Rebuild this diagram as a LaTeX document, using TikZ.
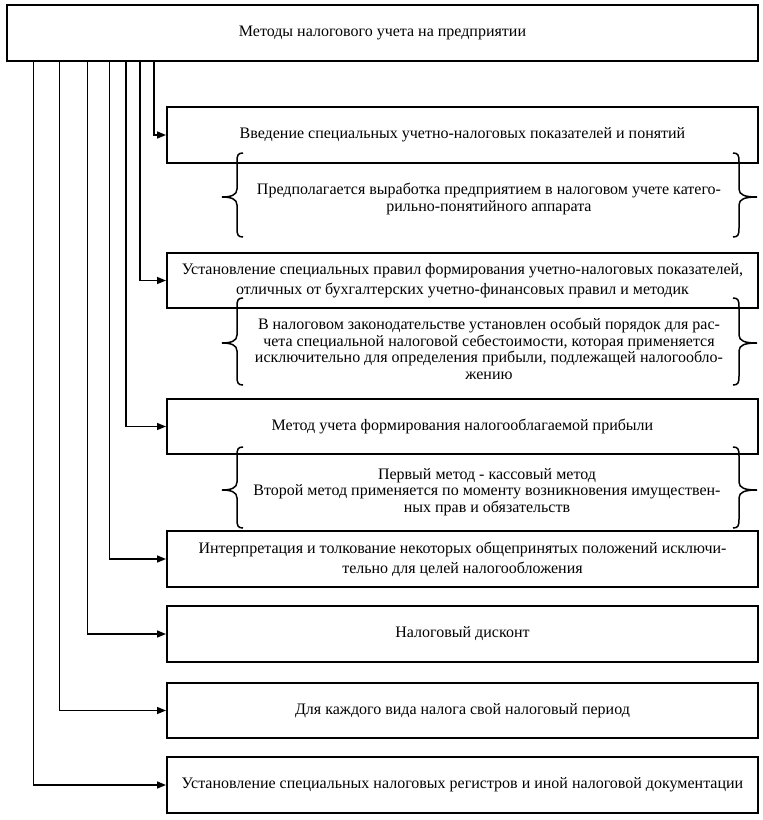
\documentclass[tikz,border=0pt]{standalone}
\usepackage{fontspec}
\setmainfont{Liberation Serif}
\usetikzlibrary{arrows.meta}
\newcommand\leftbrc[3]{%
  \draw[brace] (243,#1) .. controls (238,#1) and (237,#1+2) .. (237,#1+9) -- (237,#2-8)
    .. controls (237,#2-2) and (231,#2) .. (222,#2)
    .. controls (231,#2) and (237,#2+2) .. (237,#2+8) -- (237,#3-9)
    .. controls (237,#3-2) and (238,#3) .. (243,#3);}
\newcommand\rightbrc[3]{%
  \draw[brace] (733,#1) .. controls (738,#1) and (739,#1+2) .. (739,#1+9) -- (739,#2-8)
    .. controls (739,#2-2) and (745,#2) .. (757,#2)
    .. controls (745,#2) and (739,#2+2) .. (739,#2+8) -- (739,#3-9)
    .. controls (739,#3-2) and (738,#3) .. (733,#3);}
\begin{document}
\begin{tikzpicture}[x=1pt,y=-1pt,
  box/.style={draw, line width=2pt, minimum width=591pt, minimum height=55pt,
    align=center, inner sep=0pt, font=\fontsize{16}{20}\selectfont},
  conn/.style={line width=1.5pt, -{Triangle[length=9pt,width=7pt]}},
  brace/.style={line width=1.5pt},
  btext/.style={align=center, inner sep=0pt, font=\fontsize{16}{16.5}\selectfont}]
\useasboundingbox[fill=white] (0,0) rectangle (763,820);

\node[box, minimum width=751pt, minimum height=56pt] (top) at (382.5,33) {Методы налогового учета на предприятии};

\node[box, minimum height=56pt] (b1) at (462.5,135) {Введение специальных учетно-налоговых показателей и понятий};
\node[box] (b2) at (462.5,280.5) {Установление специальных правил формирования учетно-налоговых показателей,\\отличных от бухгалтерских учетно-финансовых правил и методик};
\node[box] (b3) at (462.5,426.5) {Метод учета формирования налогооблагаемой прибыли};
\node[box, minimum height=56pt] (b4) at (462.5,559) {Интерпретация и толкование некоторых общепринятых положений исключи-\\тельно для целей налогообложения};
\node[box, minimum height=56pt] (b5) at (462.5,634) {Налоговый дисконт};
\node[box] (b6) at (462.5,710.5) {Для каждого вида налога свой налоговый период};
\node[box, minimum height=56pt] (b7) at (462.5,785) {Установление специальных налоговых регистров и иной налоговой документации};

% braces
\leftbrc{153}{197}{237}
\rightbrc{153}{197}{237}
\node[btext] (t1) at (489,199) {Предполагается выработка предприятием в налоговом учете катего-\\рильно-понятийного аппарата};

\leftbrc{298}{343}{385}
\rightbrc{298}{343}{385}
\node[btext] (t2) at (489,349) {В налоговом законодательстве установлен особый порядок для рас-\\чета специальной налоговой себестоимости, которая применяется\\исключительно для определения прибыли, подлежащей налогообло-\\жению};

\leftbrc{447}{490}{528}
\rightbrc{447}{490}{528}
\node[btext] (t3) at (487,492) {Первый метод - кассовый метод\\Второй метод применяется по моменту возникновения имуществен-\\ных прав и обязательств};

% connectors
\coordinate (c1) at (154,61);
\coordinate (c2) at (140,61);
\coordinate (c3) at (126,61);
\coordinate (c4) at (109.5,61);
\coordinate (c5) at (87.5,61);
\coordinate (c6) at (59.5,61);
\coordinate (c7) at (33.5,61);
\draw[conn] (c1) |- (b1.west);
\draw[conn] (c2) |- (b2.west);
\draw[conn] (c3) |- (b3.west);
\draw[conn] (c4) |- (b4.west);
\draw[conn] (c5) |- (b5.west);
\draw[conn] (c6) |- (b6.west);
\draw[conn] (c7) |- (b7.west);
\end{tikzpicture}
\end{document}
